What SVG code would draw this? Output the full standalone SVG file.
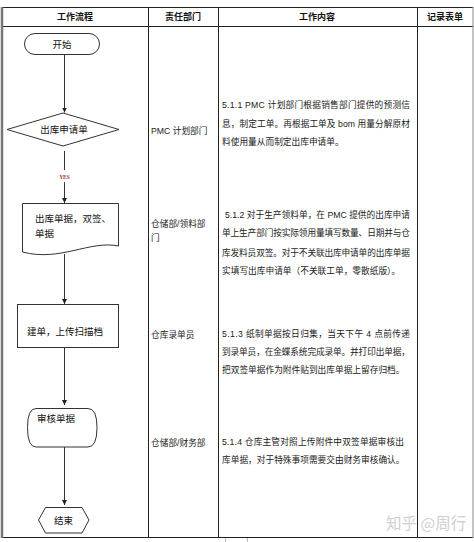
<svg xmlns="http://www.w3.org/2000/svg" width="474" height="542" viewBox="0 0 474 542">
<style>
.t{font-family:"Liberation Sans","Noto Sans CJK SC",sans-serif;font-size:8.7px;fill:#1a1a1a}
.h{font-family:"Noto Sans CJK SC",sans-serif;font-size:9px;font-weight:bold;fill:#111;text-anchor:middle}
.f{font-family:"Liberation Sans","Noto Sans CJK SC",sans-serif;font-size:9.5px;fill:#111}
.s{fill:#fff;stroke:#333;stroke-width:1}
.c{stroke:#333;stroke-width:1;fill:none}
.g{stroke:#222;stroke-width:1;fill:none}
</style>
<defs>
<marker id="ar" viewBox="0 0 10 10" refX="10" refY="5" markerWidth="5" markerHeight="6" markerUnits="userSpaceOnUse" orient="auto"><path d="M0,0 L10,5 L0,10 z" fill="#222"/></marker>
</defs>
<rect width="474" height="542" fill="#fff"/>
<g id="table">
<line class="g" x1="2" y1="7.5" x2="473" y2="7.5"/>
<line class="g" x1="2" y1="26.5" x2="473" y2="26.5"/>
<line class="g" x1="2" y1="537.5" x2="473" y2="537.5"/>
<line x1="2" y1="7" x2="2" y2="538" stroke="#777" stroke-width="2.5"/>
<line class="g" x1="148.5" y1="7" x2="148.5" y2="538"/>
<line class="g" x1="218.5" y1="7" x2="218.5" y2="538"/>
<line class="g" x1="417.5" y1="7" x2="417.5" y2="538"/>
<line x1="473" y1="7" x2="473" y2="538" stroke="#888" stroke-width="1"/>
<line x1="225.5" y1="538" x2="225.5" y2="542" stroke="#bbb"/>
<line x1="247.5" y1="538" x2="247.5" y2="542" stroke="#bbb"/>
<text class="h" x="75" y="20">工作流程</text>
<text class="h" x="183" y="20">责任部门</text>
<text class="h" x="317" y="20">工作内容</text>
<text class="h" x="445" y="20">记录表单</text>
</g>
<g id="connectors">
<path class="c" d="M64.5,54 V112.5" marker-end="url(#ar)"/>
<path class="c" d="M64.5,151 V170"/>
<path class="c" d="M64.5,182 V203" marker-end="url(#ar)"/>
<path class="c" d="M64.5,254 V304" marker-end="url(#ar)"/>
<path class="c" d="M64.5,347 V405" marker-end="url(#ar)"/>
<path class="c" d="M64.5,447 V505" marker-end="url(#ar)"/>
<text x="64.5" y="179" text-anchor="middle" font-family="Liberation Serif,serif" font-size="5.5" font-weight="bold" fill="#b03030">YES</text>
</g>
<g id="start">
<rect class="s" x="24.5" y="33.5" width="75" height="21" rx="10.5"/>
<text class="f" x="62" y="47.5" text-anchor="middle">开始</text>
</g>
<g id="apply">
<polygon class="s" points="7,129.5 63,113 119,129.5 63,146"/>
<text class="f" x="64" y="133" text-anchor="middle">出库申请单</text>
</g>
<g id="doc">
<path class="s" d="M22.5,203.5 H118.5 V246 C90,240 60,262 22.5,252 Z"/>
<text class="f" x="35" y="221.5">出库单据，双签、</text>
<text class="f" x="35" y="236.5">单据</text>
</g>
<g id="build">
<rect class="s" x="17.5" y="304.5" width="101" height="43"/>
<text class="f" x="65" y="334.5" text-anchor="middle">建单，上传扫描档</text>
</g>
<g id="review">
<path class="s" d="M36,408.5 H88 Q97,408.5 97,427.5 Q97,447 88,447 H36 Q27.5,447 27.5,427.5 Q27.5,408.5 36,408.5 Z"/>
<text class="f" x="37" y="422" font-size="8.5">审核单据</text>
</g>
<g id="end">
<polygon class="s" points="38.5,520 45.5,507.5 82,507.5 89,520 82,533 45.5,533"/>
<text class="f" x="63.5" y="523.5" text-anchor="middle">结束</text>
</g>
<g id="dept">
<text class="t" x="151" y="133.5">PMC 计划部门</text>
<text class="t" x="151" y="226.5">仓储部/领料部</text>
<text class="t" x="151" y="240.5">门</text>
<text class="t" x="151" y="338">仓库录单员</text>
<text class="t" x="151" y="445.5">仓储部/财务部</text>
</g>
<g id="content">
<text class="t" x="222" y="108" textLength="188" lengthAdjust="spacing">5.1.1 PMC 计划部门根据销售部门提供的预测信</text>
<text class="t" x="222" y="126.5" textLength="188" lengthAdjust="spacing">息，制定工单。再根据工单及 bom 用量分解原材</text>
<text class="t" x="222" y="145">料使用量从而制定出库申请单。</text>
<text class="t" x="225" y="217.5" textLength="185" lengthAdjust="spacing">5.1.2 对于生产领料单，在 PMC 提供的出库申请</text>
<text class="t" x="222" y="236" textLength="188" lengthAdjust="spacing">单上生产部门按实际领用量填写数量、日期并与仓</text>
<text class="t" x="222" y="255.5" textLength="188" lengthAdjust="spacing">库发料员双签。对于不关联出库申请单的出库单据</text>
<text class="t" x="222" y="274">实填写出库申请单（不关联工单，零散纸版）。</text>
<text class="t" x="222" y="337" textLength="188" lengthAdjust="spacing">5.1.3  纸制单据按日归集，当天下午 4 点前传递</text>
<text class="t" x="222" y="355" textLength="188" lengthAdjust="spacing">到录单员，在金蝶系统完成录单。并打印出单据，</text>
<text class="t" x="222" y="373">把双签单据作为附件贴到出库单据上留存归档。</text>
<text class="t" x="222" y="445" textLength="182" lengthAdjust="spacing">5.1.4 仓库主管对照上传附件中双签单据审核出</text>
<text class="t" x="222" y="463">库单据，对于特殊事项需要交由财务审核确认。</text>
</g>
<text x="386" y="529" font-family="Noto Sans CJK SC,sans-serif" font-size="15.5" fill="#d0d0d0">知乎 @周行</text>
</svg>
